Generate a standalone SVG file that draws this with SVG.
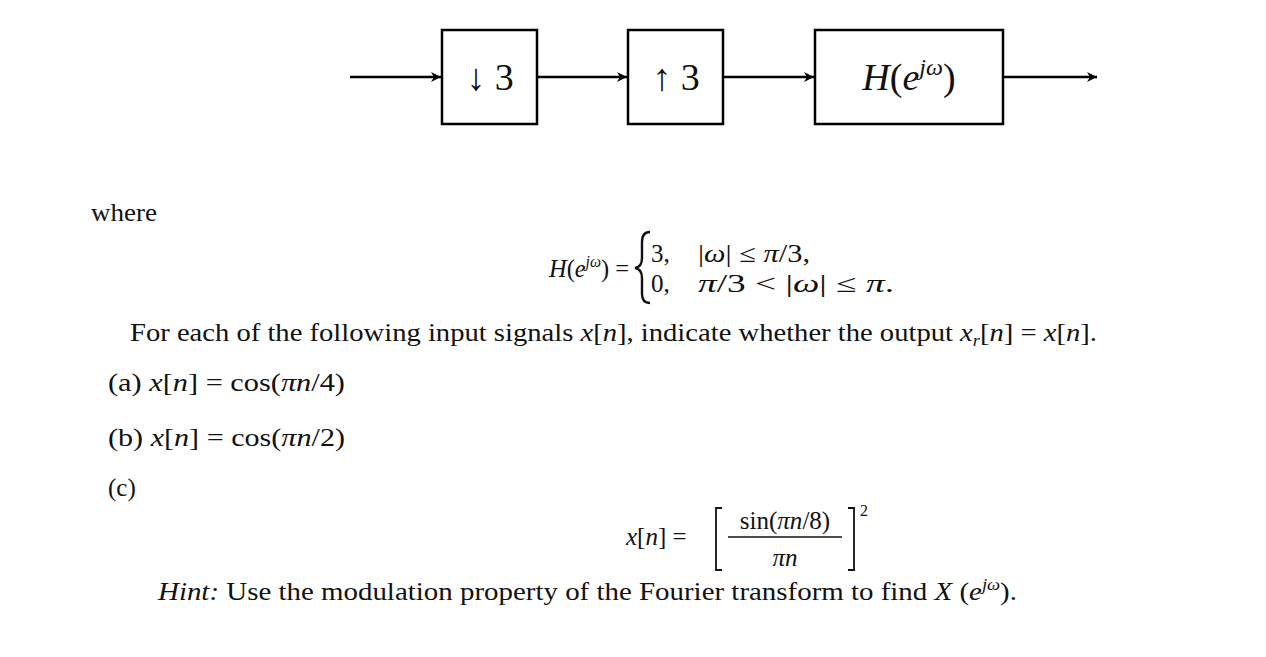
<svg xmlns="http://www.w3.org/2000/svg" width="1266" height="657" viewBox="0 0 1266 657">
<defs>
<marker id="ah" viewBox="0 0 10 10" refX="10" refY="5" markerWidth="14" markerHeight="10" markerUnits="userSpaceOnUse" orient="auto"><path d="M0,0 L10,5 L0,10 L3,5 Z" fill="#000"/></marker>
<style>
.box{fill:#fff;stroke:#000;stroke-width:2.5}
.ln{stroke:#000;stroke-width:2.5;fill:none;marker-end:url(#ah)}
text{font-family:"Liberation Serif","DejaVu Serif",serif;fill:#111}
.t{font-size:25px}
.bt{font-size:38px;text-anchor:middle}
.i{font-style:italic}
</style>
</defs>
<rect width="1266" height="657" fill="#fff"/>
<g id="connectors">
<line class="ln" x1="350" y1="77" x2="441" y2="77"/>
<line class="ln" x1="537" y1="77" x2="627" y2="77"/>
<line class="ln" x1="723" y1="77" x2="814" y2="77"/>
<line class="ln" x1="1003" y1="77" x2="1097" y2="77"/>
</g>
<g id="down3"><rect class="box" x="442" y="30" width="95" height="94"/><text class="bt" x="490" y="90">↓ 3</text></g>
<g id="up3"><rect class="box" x="628" y="30" width="95" height="94"/><text class="bt" x="676" y="90">↑ 3</text></g>
<g id="filter"><rect class="box" x="815" y="30" width="188" height="94"/><text class="bt" x="909" y="90"><tspan class="i">H</tspan>(<tspan class="i">e</tspan><tspan class="i" font-size="24" dy="-15">jω</tspan><tspan dy="15">)</tspan></text></g>
<text class="t" x="91" y="221" textLength="66" lengthAdjust="spacingAndGlyphs">where</text>
<text class="t" x="549" y="277" textLength="80" lengthAdjust="spacingAndGlyphs"><tspan class="i">H</tspan>(<tspan class="i">e</tspan><tspan class="i" font-size="16" dy="-10">jω</tspan><tspan dy="10">) =</tspan></text>
<path d="M650,232 Q642,232 642,242 L642,258 Q642,267 635,268 Q642,269 642,278 L642,294 Q642,303 650,303" fill="none" stroke="#111" stroke-width="2.4"/>
<text class="t" x="651" y="262">3,</text>
<text class="t" x="698" y="262" textLength="112" lengthAdjust="spacingAndGlyphs">|<tspan class="i">ω</tspan>| ≤ <tspan class="i">π</tspan>/3,</text>
<text class="t" x="651" y="292">0,</text>
<text class="t" x="698" y="292" textLength="196" lengthAdjust="spacingAndGlyphs"><tspan class="i">π</tspan>/3 &lt; |<tspan class="i">ω</tspan>| ≤ <tspan class="i">π</tspan>.</text>
<text class="t" x="130" y="341" textLength="967" lengthAdjust="spacingAndGlyphs">For each of the following input signals <tspan class="i">x</tspan>[<tspan class="i">n</tspan>], indicate whether the output <tspan class="i">x</tspan><tspan class="i" font-size="16" dy="5">r</tspan><tspan dy="-5">[</tspan><tspan class="i">n</tspan>] = <tspan class="i">x</tspan>[<tspan class="i">n</tspan>].</text>
<text class="t" x="108" y="391" textLength="237" lengthAdjust="spacingAndGlyphs">(a)  <tspan class="i">x</tspan>[<tspan class="i">n</tspan>] = cos(<tspan class="i">πn</tspan>/4)</text>
<text class="t" x="108" y="446" textLength="237" lengthAdjust="spacingAndGlyphs">(b)  <tspan class="i">x</tspan>[<tspan class="i">n</tspan>] = cos(<tspan class="i">πn</tspan>/2)</text>
<text class="t" x="108" y="496">(c)</text>
<text class="t" x="626" y="545"><tspan class="i">x</tspan>[<tspan class="i">n</tspan>] =</text>
<path d="M722,508 L716,508 L716,570 L722,570 M848,508 L854,508 L854,570 L848,570" fill="none" stroke="#111" stroke-width="1.8"/>
<text class="t" x="785" y="529" text-anchor="middle">sin(<tspan class="i">πn</tspan>/8)</text>
<line x1="728" y1="537" x2="842" y2="537" stroke="#111" stroke-width="1.5"/>
<text class="t i" x="785" y="566" text-anchor="middle">πn</text>
<text x="860" y="516" font-size="16">2</text>
<text class="t" x="158" y="600" textLength="859" lengthAdjust="spacingAndGlyphs"><tspan class="i">Hint:</tspan> Use the modulation property of the Fourier transform to find <tspan class="i">X</tspan> (<tspan class="i">e</tspan><tspan class="i" font-size="16" dy="-10">jω</tspan><tspan dy="10">).</tspan></text>
</svg>
